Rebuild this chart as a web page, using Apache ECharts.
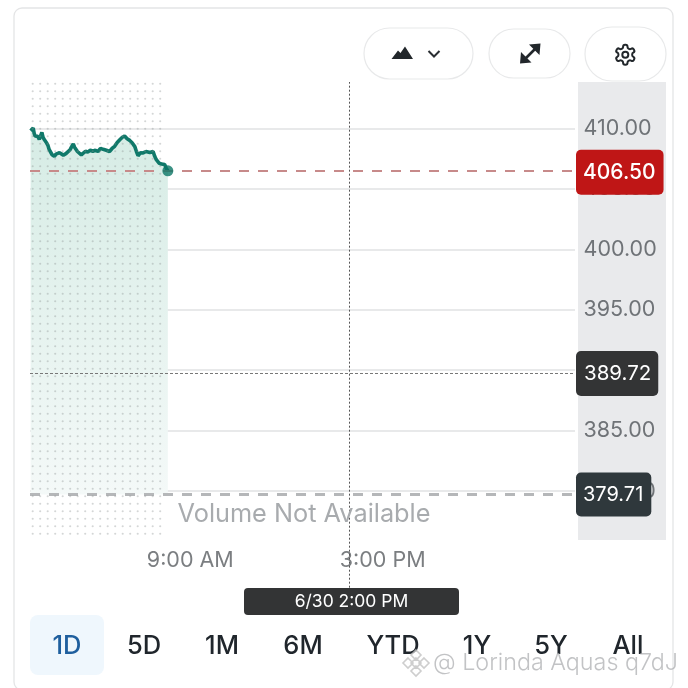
<!DOCTYPE html>
<html><head><meta charset="utf-8">
<style>html,body{margin:0;padding:0;background:#fff}#c{width:688px;height:688px}</style>
<script src="https://cdn.jsdelivr.net/npm/echarts@6/dist/echarts.min.js"></script>
</head><body><div id="c"></div>
<script>
const hours=[4.02,4.06,4.10,4.13,4.16,4.20,4.24,4.29,4.33,4.37,4.41,4.45,4.52,4.56,4.60,4.64,4.69,4.76,4.81,4.87,4.92,4.97,5.04,5.12,5.18,5.25,5.30,5.35,5.39,5.43,5.48,5.54,5.60,5.66,5.73,5.80,5.88,5.96,6.04,6.12,6.20,6.28,6.38,6.48,6.56,6.64,6.72,6.80,6.88,6.95,7.03,7.11,7.19,7.27,7.32,7.37,7.45,7.53,7.62,7.74,7.84,7.89,7.94,8.02,8.10,8.15,8.20,8.25,8.30];
const prices=[409.82,409.95,410.04,409.60,409.38,409.50,409.35,409.10,409.40,409.68,409.25,409.07,408.80,408.60,408.25,408.10,407.83,407.70,407.88,407.82,408.00,407.95,407.80,407.92,408.02,408.25,408.50,408.72,408.45,408.42,408.10,407.97,407.82,407.92,408.12,408.05,408.20,408.12,408.20,408.10,408.36,408.28,408.20,408.10,408.35,408.53,408.85,409.07,409.28,409.38,409.15,409.02,408.80,408.50,408.10,407.75,408.00,407.98,408.10,408.02,408.10,407.70,407.42,407.15,407.06,406.90,407.02,406.70,406.50];
const yTicks=[380,385,390,395,400,405,410];
const xTickHours=[9,15];
const xTickLabels=['9:00 AM','3:00 PM'];
const lastPrice=406.50, crossPrice=389.72, prevClose=379.71, crossHour=13.96;
const crossLabel='6/30 2:00 PM';
const volumeNote='Volume Not Available';
const ranges=['1D','5D','1M','6M','YTD','1Y','5Y','All'];
const rangeCenters=[67,144,222,303,393,477,551,628];
const watermark='@ Lorinda Aquas q7dJ';
const FONT='Inter';

const pat=document.createElement('canvas');pat.width=15;pat.height=15;
const g=pat.getContext('2d');g.fillStyle='rgba(135,140,140,0.36)';
[[2.7,1.2],[10.2,1.2],[2.7,8.7],[10.2,8.7]].forEach(p=>{g.beginPath();g.arc(p[0],p[1],1.05,0,7);g.fill();});

const gear="M12.22 2h-.44a2 2 0 0 0-2 2v.18a2 2 0 0 1-1 1.73l-.43.25a2 2 0 0 1-2 0l-.15-.08a2 2 0 0 0-2.73.73l-.22.38a2 2 0 0 0 .73 2.73l.15.1a2 2 0 0 1 1 1.72v.51a2 2 0 0 1-1 1.74l-.15.09a2 2 0 0 0-.73 2.73l.22.38a2 2 0 0 0 2.73.73l.15-.08a2 2 0 0 1 2 0l.43.25a2 2 0 0 1 1 1.73V20a2 2 0 0 0 2 2h.44a2 2 0 0 0 2-2v-.18a2 2 0 0 1 1-1.73l.43-.25a2 2 0 0 1 2 0l.15.08a2 2 0 0 0 2.73-.73l.22-.39a2 2 0 0 0-.73-2.73l-.15-.08a2 2 0 0 1-1-1.74v-.5a2 2 0 0 1 1-1.74l.15-.09a2 2 0 0 0 .73-2.73l-.22-.38a2 2 0 0 0-2.73-.73l-.15.08a2 2 0 0 1-2 0l-.43-.25a2 2 0 0 1-1-1.73V4a2 2 0 0 0-2-2z M15 12a3 3 0 1 1-6 0a3 3 0 1 1 6 0z";
const icons={
 gearIcon:gear,
 mountainIcon:'M391.5 59L398 50.5L400.5 53L405 46.5L413 59Z',
 expandLine:'M524 60L537 47',
 expandHeads:'M540.5 43.5L529 44.5L539.5 55Z M520 63.5L521 52L531.5 62.5Z',
 markIcon:'M416 650L421 655L416 660L411 655Z M416 666L421 671L416 676L411 671Z M408 658L413 663L408 668L403 663Z M424 658L429 663L424 668L419 663Z M416 658L421 663L416 668L411 663Z'
};
Object.keys(icons).forEach(k=>echarts.graphic.registerShape(k,echarts.graphic.extendPath(icons[k],{})));

function pill(x,y,w,h){return {type:'rect',z:1,shape:{x,y,width:w,height:h,r:h/2},style:{fill:'#fff',stroke:'#e8e9ea',lineWidth:1.2}};}
const graphics=[
 {type:'rect',z:0,shape:{x:14,y:8,width:659,height:682,r:8},style:{fill:'#fff',stroke:'#e4e5e6',lineWidth:1.3}},
 {type:'rect',z:0,shape:{x:578,y:82,width:88,height:458},style:{fill:'#e9eaec'}},
 {type:'rect',z:9,shape:{x:30,y:82,width:135,height:455},style:{fill:{image:pat,repeat:'repeat'}}},
 pill(364,28,109,51),pill(489,29,81,49),pill(585,27,81,54),
 {type:'mountainIcon',z:2,style:{fill:'#22272b'}},
 {type:'polyline',z:2,shape:{points:[[428.5,51],[434,56.5],[439.5,51]]},style:{fill:'none',stroke:'#2a2e32',lineWidth:2}},
 {type:'expandLine',z:2,style:{fill:'none',stroke:'#22272b',lineWidth:2.6}},
 {type:'expandHeads',z:2,style:{fill:'#22272b'}},
 {type:'gearIcon',z:2,x:613.3,y:42.7,style:{fill:'none',stroke:'#22272b',lineWidth:2}},
 {type:'text',z:6,style:{x:304,y:514,text:volumeNote,fill:'#a8abae',font:'400 25.3px '+FONT,align:'center',verticalAlign:'middle'}},
 {type:'rect',z:8,shape:{x:244,y:588,width:215,height:27,r:4},style:{fill:'#333435'}},
 {type:'text',z:9,style:{x:351.5,y:602,text:crossLabel,fill:'#fff',font:'400 17.5px '+FONT,align:'center',verticalAlign:'middle'}},
 {type:'rect',z:2,shape:{x:30,y:615,width:74,height:60,r:8},style:{fill:'#eff7fd'}}
];
ranges.forEach((t,i)=>graphics.push({type:'text',z:3,style:{x:rangeCenters[i],y:646,text:t,fill:i===0?'#1f5f9e':'#20262c',font:'500 25.5px '+FONT,align:'center',verticalAlign:'middle'}}));
graphics.push(
 {type:'markIcon',z:20,style:{fill:'rgba(255,255,255,0.5)',stroke:'rgba(190,190,190,0.75)',lineWidth:1.6}},
 {type:'text',z:20,style:{x:433,y:663,text:watermark,fill:'rgba(170,172,174,0.72)',font:'300 23.3px '+FONT,align:'left',verticalAlign:'middle'}}
);

function tag(value,lineStyle,bg,fs,pad,weight,offset){
 return {yAxis:value,lineStyle,label:{show:true,position:'end',distance:1,offset:[0,offset],formatter:value.toFixed(2),color:'#fff',backgroundColor:bg,borderRadius:5,fontSize:fs,fontWeight:weight,fontFamily:FONT,padding:pad,align:'left'}};
}
const chart=echarts.init(document.getElementById('c'),null,{renderer:'canvas'});
const series0=hours.map((h,i)=>[h,prices[i]]);
chart.setOption({
 animation:false,
 graphic:graphics,
 grid:{left:30,right:113,top:80.2,height:507.5,containLabel:false},
 xAxis:{type:'value',min:4,max:21,axisLine:{show:false},axisTick:{show:false},splitLine:{show:false},
  axisLabel:{customValues:xTickHours,inside:true,margin:16,fontFamily:FONT,fontSize:21.5,color:'#7b7e81',formatter:v=>xTickLabels[xTickHours.indexOf(v)]}},
 yAxis:{type:'value',position:'right',min:372,max:414,axisLine:{show:false},
  axisTick:{show:false,customValues:yTicks},
  splitLine:{show:true,lineStyle:{color:'#e8e9ea',width:2}},
  axisLabel:{customValues:yTicks,margin:8.5,fontFamily:FONT,fontSize:21.5,color:'#6f7377',formatter:v=>v.toFixed(2)}},
 series:[
  {type:'line',z:3,data:series0,symbol:'none',smooth:false,
   lineStyle:{color:'#10796a',width:3.6,join:'bevel'},
   areaStyle:{origin:prevClose,opacity:1,color:{type:'linear',x:0,y:0,x2:0,y2:1,colorStops:[{offset:0,color:'#d6ece5'},{offset:1,color:'#f4f9f8'}]}},
   markLine:{silent:true,symbol:'none',z:5,animation:false,precision:2,data:[
     tag(prevClose,{color:'#b5b7b9',type:[10,9],width:3},'#2f383c',20,[12,8,12,7],400,0),
     tag(crossPrice,{color:'#777',type:[3,2],width:1.2},'#333435',20.5,[12,7,12,8],400,0),
     tag(lastPrice,{color:'#c78a8a',type:[10,9],width:2},'#bf1616',21,[12,8,12,7],500,1.5),
     [{coord:[crossHour,372],lineStyle:{color:'#555',type:[2,2],width:1},label:{show:false}},{coord:[crossHour,413.85]}]
   ]}},
  {type:'scatter',z:6,data:[[hours[hours.length-1],prices[prices.length-1]]],symbolSize:11,itemStyle:{color:'#0b7766'}}
 ]
});
</script></body></html>
